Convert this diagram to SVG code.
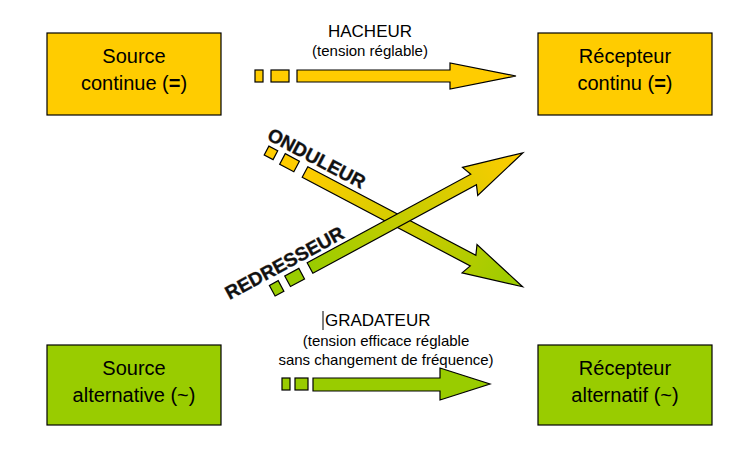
<svg xmlns="http://www.w3.org/2000/svg" width="751" height="461" viewBox="0 0 751 461">
<defs>
<style>
.y{fill:#FFCC00;stroke:#000;stroke-width:1.2}
.g{fill:#99CC00;stroke:#000;stroke-width:1.2}
.a{stroke:#000;stroke-width:1.2}
.t{font-family:"Liberation Sans",Arial,sans-serif;fill:#000;text-anchor:middle}
.big{font-size:20px}
.lab{font-size:17px}
.sm{font-size:15px}
.dg{font-size:19px;font-weight:bold;fill:#111;stroke:#888;stroke-width:0.6;paint-order:stroke}
</style>
<linearGradient id="yg" x1="0" y1="0" x2="1" y2="0"><stop offset="0" stop-color="#FFCC00"/><stop offset="1" stop-color="#99CC00"/></linearGradient>
<linearGradient id="gy" x1="0" y1="0" x2="1" y2="0"><stop offset="0" stop-color="#99CC00"/><stop offset="1" stop-color="#FFCC00"/></linearGradient>
</defs>
<rect width="751" height="461" fill="#fff"/>
<g id="src-dc"><rect class="y" x="47" y="33" width="174" height="82"/><text class="t big" x="134" y="63">Source</text><text class="t big" x="134" y="90">continue (<tspan font-weight="bold">=</tspan>)</text></g>
<g id="rcv-dc"><rect class="y" x="538" y="33" width="174" height="82"/><text class="t big" x="625" y="63">Récepteur</text><text class="t big" x="625" y="90">continu (<tspan font-weight="bold">=</tspan>)</text></g>
<g id="src-ac"><rect class="g" x="47" y="345" width="174" height="80"/><text class="t big" x="134" y="375">Source</text><text class="t big" x="134" y="402">alternative (~)</text></g>
<g id="rcv-ac"><rect class="g" x="538" y="345" width="174" height="80"/><text class="t big" x="625" y="375">Récepteur</text><text class="t big" x="625" y="402">alternatif (~)</text></g>
<g id="connectors">
<g id="hacheur">
<rect class="y" x="255" y="70" width="8" height="12"/><rect class="y" x="271" y="70" width="18" height="12"/>
<polygon class="y" points="297,70 450,70 450,63 516,76 450,89 450,82 297,82"/>
<text class="t lab" x="370" y="37">HACHEUR</text><text class="t sm" x="370" y="56">(tension réglable)</text>
</g>
<g id="gradateur">
<rect class="g" x="282" y="378" width="8" height="12"/><rect class="g" x="295" y="378" width="13" height="12"/>
<polygon class="g" points="313,378 440,378 440,368 490,384 440,400 440,391 313,391"/>
<text class="t lab" x="325" y="326" style="text-anchor:start">GRADATEUR</text><text class="t sm" x="386" y="346">(tension efficace réglable</text><text class="t sm" x="386" y="365">sans changement de fréquence)</text>
<line x1="323" y1="311" x2="323" y2="330" stroke="#000" stroke-width="1"/>
</g>
<g id="onduleur" transform="translate(305,172) rotate(27.8)">
<rect class="y" x="-44" y="-6" width="10" height="10"/><rect class="y" x="-26" y="-7" width="16" height="12"/>
<polygon class="a" fill="url(#yg)" points="0,-6 190,-6 186,-16 246,0 186,16 190,6 0,6"/>
<text class="dg t" x="-50" y="-11" style="text-anchor:start">ONDULEUR</text>
</g>
<g id="redresseur" transform="translate(310,268) rotate(-28.4)">
<rect class="g" x="-44" y="-4" width="10" height="12"/><rect class="g" x="-26" y="-5" width="16" height="12"/>
<polygon class="a" fill="url(#gy)" points="0,-6 186,-6 182,-16 242,0 182,16 186,6 0,6"/>
<text class="dg t" x="-86" y="-10" style="text-anchor:start">REDRESSEUR</text>
</g>
</g>
</svg>
